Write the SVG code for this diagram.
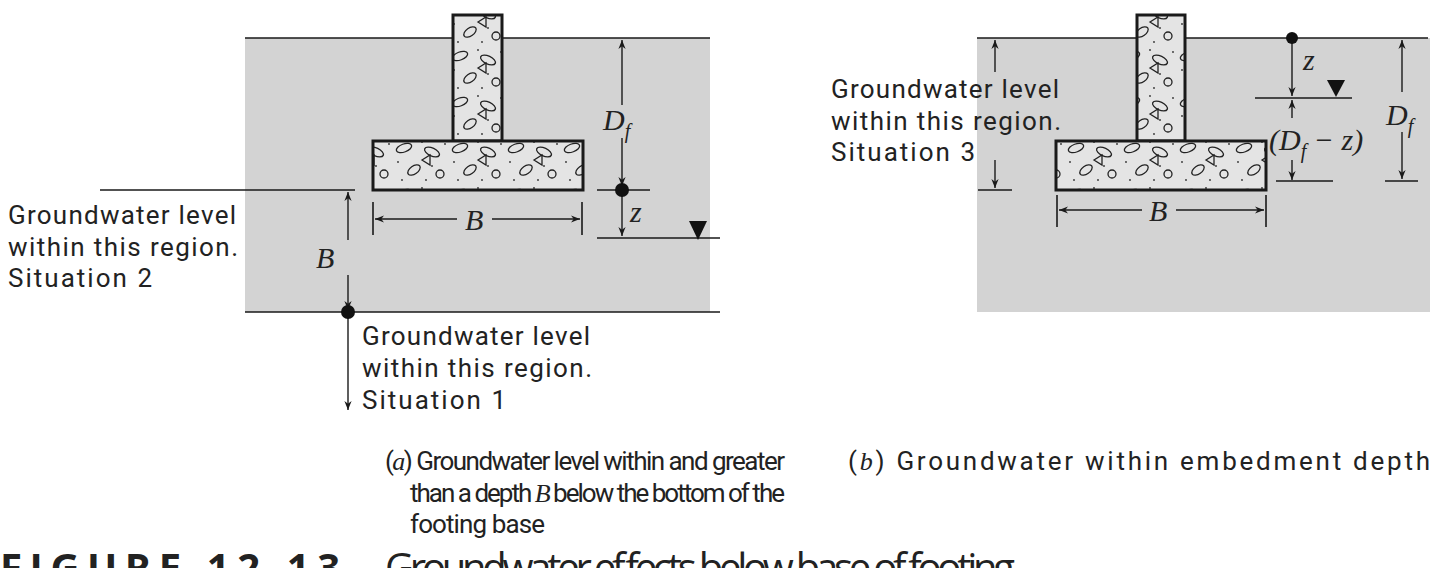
<svg xmlns="http://www.w3.org/2000/svg" width="1440" height="568" viewBox="0 0 1440 568">
<style>
.ln{stroke:#1a1a1a;stroke-width:1.6;fill:none}
.ar{stroke:#1a1a1a;stroke-width:1.4;fill:none;marker-end:url(#ah)}
.t{font-family:Roboto,"Liberation Sans",sans-serif;font-size:26px;fill:#222}
.m{font-family:"Liberation Serif",serif;font-style:italic;font-size:30px;fill:#222}
.conc{fill:url(#agg);stroke:#1a1a1a;stroke-width:3}
</style>
<defs>
<marker id="ah" viewBox="0 0 10 10" refX="10" refY="5" markerWidth="9" markerHeight="9" markerUnits="userSpaceOnUse" orient="auto"><path d="M0,1 L10,5 L0,9 L3,5 Z" fill="#1a1a1a"/></marker>
<pattern id="agg" width="56" height="46" patternUnits="userSpaceOnUse">
<rect width="56" height="46" fill="#e4e4e4"/>
<g fill="none" stroke="#222" stroke-width="1.3">
<ellipse cx="12" cy="10" rx="8" ry="4" transform="rotate(-20 12 10)"/>
<ellipse cx="40" cy="14" rx="8" ry="4" transform="rotate(25 40 14)"/>
<ellipse cx="22" cy="32" rx="7" ry="4" transform="rotate(-35 22 32)"/>
<ellipse cx="48" cy="36" rx="4" ry="4"/>
<path d="M30 22 l8 -5 l0 10 z"/>
</g>
<g fill="#333"><circle cx="6" cy="24" r="0.9"/><circle cx="30" cy="4" r="0.9"/><circle cx="40" cy="28" r="0.9"/><circle cx="10" cy="42" r="0.9"/><circle cx="34" cy="42" r="0.9"/><circle cx="53" cy="6" r="0.9"/></g>
</pattern>
</defs>
<rect width="1440" height="568" fill="#fff"/>

<g id="soil-a"><rect x="245" y="38" width="465" height="274" fill="#d3d3d3"/>
<path class="ln" d="M245 38 H453 M502 38 H710 M245 312 H720 M100 190 H355"/></g>
<g id="footing-a"><rect class="conc" x="453" y="15" width="49" height="126"/><rect class="conc" x="373" y="141" width="210" height="49"/></g>

<g id="soil-b"><rect x="977" y="38" width="453" height="274" fill="#d3d3d3"/>
<path class="ln" d="M977 38 H1137 M1185 38 H1428"/></g>
<g id="footing-b"><rect class="conc" x="1137" y="15" width="48" height="126"/><rect class="conc" x="1056" y="141" width="210" height="49"/></g>

<g id="connectors">
<path class="ln" d="M597 190 H650 M597 238 H720 M373 202 V235 M582 202 V235"/>
<path class="ar" d="M622 105 V40"/><path class="ar" d="M622 138 V186"/>
<path class="ar" d="M622 195 V236"/>
<path class="ar" d="M457 219 H375"/><path class="ar" d="M492 219 H580"/>
<path class="ar" d="M348 240 V192"/><path class="ar" d="M348 275 V310"/>
<path class="ar" d="M348 315 V410"/>
<circle cx="622" cy="190" r="7" fill="#111"/><circle cx="348" cy="312" r="7" fill="#111"/>
<path d="M689 221 H707 L698 240 Z" fill="#111"/>
<path class="ln" d="M978 190 H1012 M1255 98 H1352 M1276 181 H1333 M1385 181 H1418 M1057 195 V227 M1266 195 V227"/>
<path class="ar" d="M995 72 V40"/><path class="ar" d="M995 160 V188"/>
<path class="ar" d="M1292 40 V96"/>
<path class="ar" d="M1292 118 V100"/><path class="ar" d="M1292 160 V180"/>
<path class="ar" d="M1402 92 V40"/><path class="ar" d="M1402 132 V179"/>
<path class="ar" d="M1142 210 H1059"/><path class="ar" d="M1176 210 H1264"/>
<circle cx="1292" cy="38" r="6" fill="#111"/>
<path d="M1327 80 H1345 L1336 97 Z" fill="#111"/>
</g>

<g id="labels">
<text class="m" x="603" y="130">D<tspan font-size="20" dy="8">f</tspan></text>
<text class="m" x="630" y="222" font-size="26">z</text>
<text class="m" x="465" y="230">B</text>
<text class="m" x="316" y="268">B</text>
<text class="m" x="1149" y="221">B</text>
<text class="m" x="1303" y="70" font-size="26">z</text>
<text class="m" x="1269" y="150">(D<tspan font-size="20" dy="8">f</tspan><tspan dy="-8"> − z)</tspan></text>
<text class="m" x="1386" y="125">D<tspan font-size="20" dy="8">f</tspan></text>
<text class="t" x="8" y="224" textLength="228">Groundwater level</text>
<text class="t" x="8" y="256" textLength="230">within this region.</text>
<text class="t" x="8" y="287" textLength="144">Situation 2</text>
<text class="t" x="362" y="345" textLength="228">Groundwater level</text>
<text class="t" x="362" y="377" textLength="230">within this region.</text>
<text class="t" x="362" y="409" textLength="144">Situation 1</text>
<text class="t" x="831" y="98" textLength="228">Groundwater level</text>
<text class="t" x="831" y="130" textLength="230">within this region.</text>
<text class="t" x="831" y="161" textLength="144">Situation 3</text>
<text class="t" x="385" y="470" textLength="400">(<tspan font-family="Liberation Serif" font-style="italic">a</tspan>) Groundwater level within and greater</text>
<text class="t" x="410" y="502" textLength="375">than a depth <tspan font-family="Liberation Serif" font-style="italic">B</tspan> below the bottom of the</text>
<text class="t" x="410" y="533" textLength="135">footing base</text>
<text class="t" x="848" y="470" textLength="582">(<tspan font-family="Liberation Serif" font-style="italic">b</tspan>) Groundwater within embedment depth</text>
<text x="0" y="582" font-family="'Open Sans',sans-serif" font-size="40" font-weight="bold" fill="#222" textLength="340">FIGURE 12.13</text>
<text x="385" y="582" font-family="'Open Sans',sans-serif" font-size="40" fill="#222" textLength="630">Groundwater effects below base of footing</text>
</g>
</svg>
